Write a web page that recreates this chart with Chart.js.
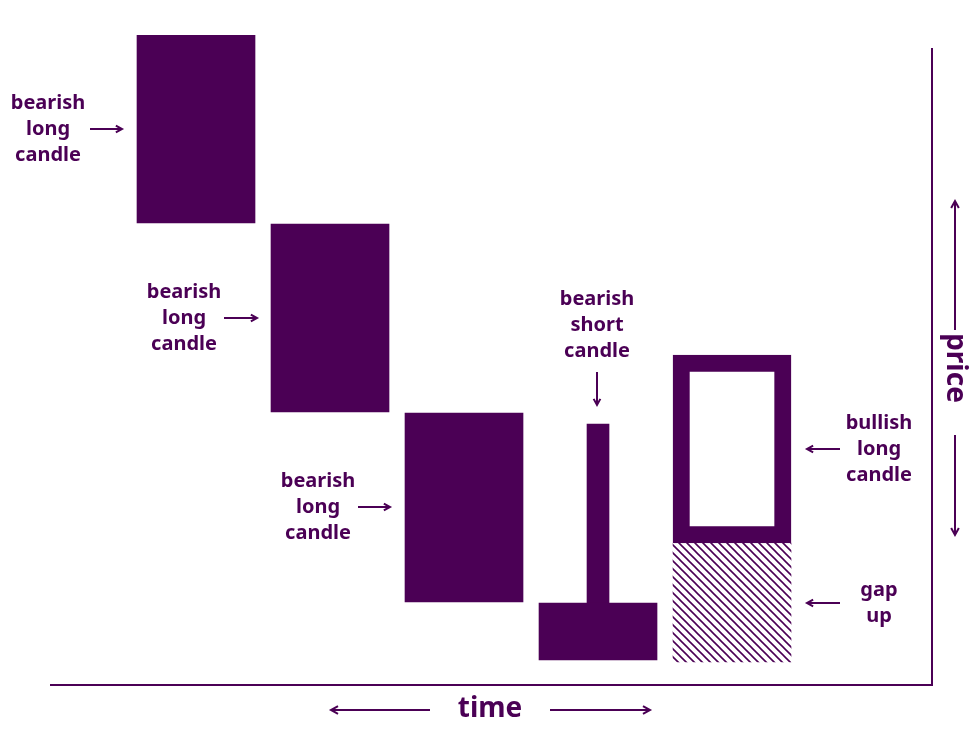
<!DOCTYPE html>
<html><head><meta charset="utf-8">
<script src="https://cdn.jsdelivr.net/npm/chart.js@4"></script>
<style>html,body{margin:0;background:#fff}#wrap{width:980px;height:735px}</style>
</head><body><div id="wrap"><canvas id="c"></canvas></div>
<script>
const PURPLE = '#4b0055';
// candle positions (time slots) and price ranges
const slots = [1, 2, 3, 4, 5];
const bearishBodies = [[462, 650], [273, 461], [83, 272], [25, 82]];
const shortWick = [82, 261];
const bullishBody = [142, 330];
const gapRange = [23, 142];

function hatch() {
  const p = document.createElement('canvas');
  p.width = 8; p.height = 8;
  const g = p.getContext('2d');
  g.strokeStyle = PURPLE; g.lineWidth = 1.6;
  g.beginPath();
  g.moveTo(0, 0); g.lineTo(8, 8);
  g.moveTo(-4, 4); g.lineTo(4, 12);
  g.moveTo(4, -4); g.lineTo(12, 4);
  g.stroke();
  return g.createPattern(p, 'repeat');
}

function arrow(ctx, x1, y1, x2, y2, head) {
  ctx.beginPath(); ctx.moveTo(x1, y1); ctx.lineTo(x2, y2); ctx.stroke();
  const a = Math.atan2(y2 - y1, x2 - x1);
  ctx.beginPath();
  ctx.moveTo(x2 - head * Math.cos(a - 0.5), y2 - head * Math.sin(a - 0.5));
  ctx.lineTo(x2, y2);
  ctx.lineTo(x2 - head * Math.cos(a + 0.5), y2 - head * Math.sin(a + 0.5));
  ctx.stroke();
}

const annotate = {
  id: 'annotate',
  afterDraw(chart) {
    const ctx = chart.ctx, xs = chart.scales.x, ys = chart.scales.y;
    ctx.save();
    ctx.strokeStyle = PURPLE; ctx.fillStyle = PURPLE; ctx.lineWidth = 2;
    // axes
    const x0 = xs.left, xr = xs.right, yb = ys.getPixelForValue(0), yt = ys.getPixelForValue(637);
    ctx.beginPath(); ctx.moveTo(x0, yb); ctx.lineTo(xr, yb); ctx.lineTo(xr, yt); ctx.stroke();

    ctx.font = 'bold 20px "Noto Sans"';
    ctx.textAlign = 'center'; ctx.textBaseline = 'middle';
    const block = (lines, cx, y0) => lines.forEach((t, i) => ctx.fillText(t, cx, y0 + i * 26));
    block(['bearish', 'long', 'candle'], 48, 103); arrow(ctx, 90, 129, 122, 129, 7);
    block(['bearish', 'long', 'candle'], 184, 292); arrow(ctx, 224, 318, 257, 318, 7);
    block(['bearish', 'long', 'candle'], 318, 481); arrow(ctx, 358, 507, 390, 507, 7);
    block(['bearish', 'short', 'candle'], 597, 299); arrow(ctx, 597, 372, 597, 405, 7);
    block(['bullish', 'long', 'candle'], 879, 423); arrow(ctx, 840, 449, 807, 449, 7);
    block(['gap', 'up'], 879, 590); arrow(ctx, 840, 603, 807, 603, 7);

    ctx.font = 'bold 28px "Noto Sans"';
    ctx.fillText('time', 490, 709);
    arrow(ctx, 430, 710, 331, 710, 8); arrow(ctx, 550, 710, 650, 710, 8);
    ctx.save(); ctx.translate(955, 368); ctx.rotate(Math.PI / 2);
    ctx.fillText('price', 0, 0); ctx.restore();
    arrow(ctx, 955, 330, 955, 201, 8); arrow(ctx, 955, 435, 955, 535, 8);
    ctx.restore();
  }
};

new Chart(document.getElementById('c'), {
  type: 'bar',
  data: {
    datasets: [
      { data: bearishBodies.map((r, i) => ({ x: slots[i], y: r })),
        backgroundColor: PURPLE, barThickness: 118, grouped: false },
      { data: [{ x: slots[3], y: shortWick }],
        backgroundColor: PURPLE, barThickness: 22, grouped: false },
      { data: [{ x: slots[4], y: bullishBody }],
        backgroundColor: '#fff', borderColor: PURPLE, borderWidth: 17, borderSkipped: false,
        barThickness: 118, grouped: false },
      { data: [{ x: slots[4], y: gapRange }],
        backgroundColor: hatch(), barThickness: 118, grouped: false }
    ]
  },
  options: {
    responsive: true, maintainAspectRatio: false, animation: false,
    layout: { padding: { left: 50, right: 48, top: 35, bottom: 50 } },
    plugins: { legend: { display: false }, tooltip: { enabled: false } },
    scales: {
      x: { type: 'linear', display: false, offset: false, min: -0.0896, max: 6.4924 },
      y: { display: false, min: 0, max: 650 }
    }
  },
  plugins: [annotate]
});
</script>
</body></html>
